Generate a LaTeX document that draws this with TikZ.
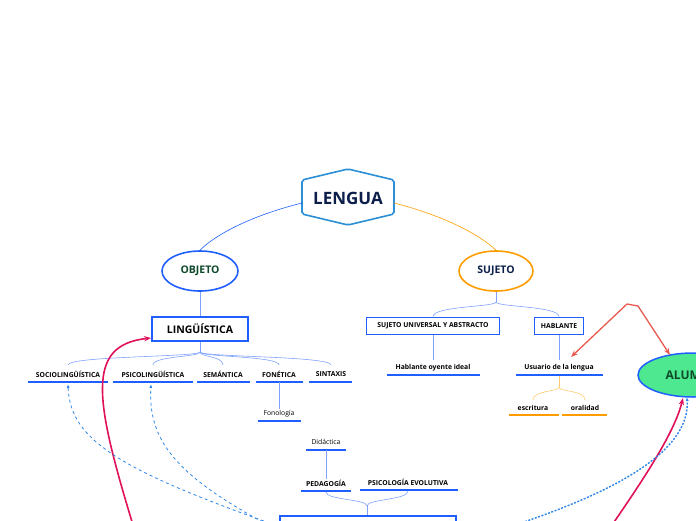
\documentclass[tikz,border=0pt]{standalone}
\usepackage{fontspec}
\setmainfont{Open Sans}
\usetikzlibrary{shapes.geometric,arrows.meta}
\definecolor{bl}{HTML}{1F5FFF}
\definecolor{lbl}{HTML}{7FA2FF}
\definecolor{hexc}{HTML}{2B8FD6}
\definecolor{orc}{HTML}{FF9D00}
\definecolor{lor}{HTML}{FFC870}
\definecolor{navy}{HTML}{0B1F4A}
\definecolor{dgreen}{HTML}{0D4A2A}
\definecolor{redc}{HTML}{E85A4F}
\definecolor{crim}{HTML}{E0105A}
\definecolor{dashc}{HTML}{2E86E8}
\definecolor{grn}{HTML}{4DE88F}
\tikzset{
 lab/.style={font=\bfseries\fontsize{6.8}{7}\selectfont, inner sep=1pt},
 labn/.style={font=\fontsize{6.8}{7}\selectfont, inner sep=1pt},
 ul/.style={bl, line width=1.5pt},
 oul/.style={orc, line width=2.2pt},
 tree/.style={lbl, line width=0.6pt},
 otree/.style={lor, line width=0.6pt},
 boxs/.style={draw=bl, line width=1.8pt, fill=white, lab},
 dsh/.style={dashc, dashed, line width=0.8pt, -{Latex[length=4pt]}},
 crs/.style={crim, line width=1.6pt, -{Stealth[length=7pt]}},
 rds/.style={redc, line width=1.3pt},
}
\begin{document}
\begin{tikzpicture}[x=1pt,y=-1pt]
\useasboundingbox (0,0) rectangle (696,520);
\begin{scope}
\clip (0,0) rectangle (696,520);
% LENGUA hexagon
\draw[hexc, line width=1.6pt, fill=white, rounded corners=2pt] (302,180) -- (348,169) -- (394,180) -- (394,214) -- (348,225) -- (302,214) -- cycle;
\node[font=\bfseries\fontsize{17}{19}\selectfont, text=navy] (lengua) at (348,198) {LENGUA};
\coordinate (lL) at (302,203); \coordinate (lR) at (394,203);
\node[ellipse, draw=bl, line width=1.6pt, minimum width=76pt, minimum height=40pt, font=\bfseries\fontsize{10.5}{12}\selectfont, text=dgreen] (objeto) at (200,271) {OBJETO};
\node[ellipse, draw=orc, line width=1.6pt, minimum width=74pt, minimum height=40pt, font=\bfseries\fontsize{10.5}{12}\selectfont, text=navy] (sujeto) at (496,271) {SUJETO};
\draw[bl, line width=0.6pt] (lL) .. controls (250,216) and (215,235) .. (objeto.north);
\draw[orc, line width=0.6pt] (lR) .. controls (445,216) and (480,235) .. (sujeto.north);
% Linguistica
\node[draw=bl, line width=1.8pt, minimum width=96pt, minimum height=24pt, font=\bfseries\fontsize{10.5}{12}\selectfont] (ling) at (200,329) {LINGÜÍSTICA};
\draw[tree] (objeto.south) -- (ling.north);
\coordinate (lj) at (200,352);
\draw[tree] (ling.south) -- (lj);
\foreach \n/\x/\t/\a/\b in {soc/68/SOCIOLINGÜÍSTICA/28/108, psi/153/PSICOLINGÜÍSTICA/113/193, sem/223/SEMÁNTICA/197/250, fon/279/FONÉTICA/256/303, sin/331/SINTAXIS/309/352}{
  \node[lab] (\n) at (\x,374) {\t};
  \coordinate (\n u) at (\x,382);
  \draw[ul] (\a,382) -- (\b,382);
  \draw[tree] (lj) .. controls (200,357) and (\x,356) .. (\x,365);
}
\node[labn] (fonol) at (279,414) {Fonología};
\draw[ul] (258,421) -- (301,421);
\draw[tree] (fonu) -- (fonol.north);
\node[labn] (did) at (326,442) {Didáctica};
\draw[ul] (306,450) -- (346,450);
\node[lab] (ped) at (326,483) {PEDAGOGÍA};
\draw[ul] (301,491) -- (351,491);
\draw[tree] (326,450) -- (ped.north);
\node[lab] (pev) at (408,482) {PSICOLOGÍA EVOLUTIVA};
\draw[ul] (360,490) -- (458,490);
\coordinate (bj) at (367,506);
\draw[tree] (367,517) -- (bj);
\draw[tree] (bj) .. controls (367,499) and (326,500) .. (326,492);
\draw[tree] (bj) .. controls (367,499) and (408,500) .. (408,491);
\draw[bl, line width=1.8pt, fill=white] (280,516) rectangle (456,540);
% Sujeto side
\node[boxs, minimum width=133pt, minimum height=17pt] (sua) at (433,326) {SUJETO UNIVERSAL Y ABSTRACTO};
\node[boxs, minimum width=49pt, minimum height=17pt] (hab) at (559,326) {HABLANTE};
\coordinate (sj) at (496,302);
\draw[tree] (sujeto.south) -- (sj);
\draw[tree] (sj) .. controls (496,307) and (433,306) .. (sua.north);
\draw[tree] (sj) .. controls (496,307) and (559,306) .. (hab.north);
\node[lab] (hoi) at (433,368) {Hablante oyente ideal};
\draw[ul] (387,375) -- (480,375);
\draw[tree] (sua.south) -- (433,360);
\node[lab] (usu) at (559,368) {Usuario de la lengua};
\draw[ul] (516,375) -- (603,375);
\draw[tree] (hab.south) -- (559,360);
\node[lab] (esc) at (533,408) {escritura};
\draw[oul] (509,415) -- (559,415);
\node[lab] (ora) at (585,408) {oralidad};
\draw[oul] (562,415) -- (607,415);
\coordinate (oj) at (559,387);
\draw[otree] (559,376) -- (oj);
\draw[otree] (oj) .. controls (559,392) and (533,390) .. (533,400);
\draw[otree] (oj) .. controls (559,392) and (585,390) .. (585,400);
% Alumno
\node[ellipse, draw=bl, fill=grn, line width=1.5pt, minimum width=110pt, minimum height=44pt, font=\bfseries\fontsize{12}{14}\selectfont, text=dgreen] (alum) at (693,375) {ALUMNO};
% red arrows
\coordinate (r1) at (627,304); \coordinate (r2) at (638,306);
\draw[rds, -{Stealth[length=7pt]}] (r1) -- (571,357);
\draw[rds, -{Stealth[length=7pt]}] (r1) -- (r2) -- (670,355);
% crimson arrows
\coordinate (c1) at (133,525); \coordinate (c2) at (612,525);
\draw[crs] (c1) .. controls (95,400) and (85,345) .. (ling.west |- 0,338) ;
\draw[crs] (c2) .. controls (650,470) and (675,430) .. (683,398);
% dashed
\coordinate (d1) at (275,525); \coordinate (d2) at (268,525); \coordinate (d3) at (515,525);
\draw[dsh] (d1) .. controls (120,470) and (70,440) .. (68,384);
\draw[dsh] (d2) .. controls (175,475) and (148,440) .. (151,384);
\draw[dashc, line width=1.4pt, dash pattern=on 2pt off 1.5pt, -{Latex[length=4pt]}] (d3) .. controls (620,490) and (690,450) .. (687,397);
\end{scope}
\end{tikzpicture}
\end{document}
